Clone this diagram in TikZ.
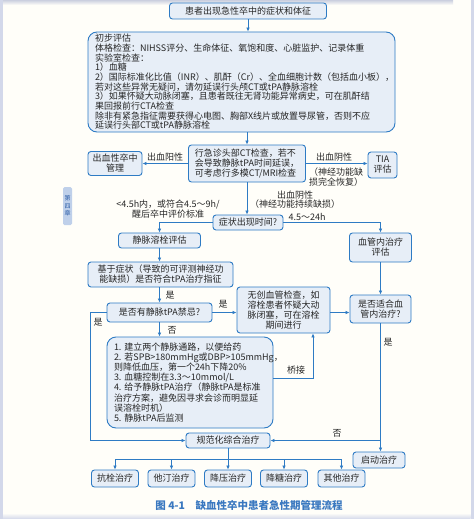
\documentclass[tikz,border=0pt]{standalone}
\usepackage{fontspec}
\setmainfont{Noto Sans CJK SC}
\usetikzlibrary{arrows.meta,calc}
\definecolor{lineblue}{HTML}{2E7BC4}
\definecolor{boxfill}{HTML}{E7EEF7}
\definecolor{txt}{HTML}{262626}
\definecolor{capblue}{HTML}{3A78C0}
\definecolor{strip}{HTML}{D3D8EA}
\definecolor{pagebg}{HTML}{FFFEF9}
\definecolor{tabblue}{HTML}{BFD0EA}
\definecolor{tabtxt}{HTML}{2E5FA8}
\begin{document}
\begin{tikzpicture}[x=1pt,y=-1pt,
  box/.style={draw=lineblue, fill=boxfill, line width=0.9pt, rounded corners=3pt,
    inner sep=1pt, align=center, font=\fontsize{9}{10}\selectfont, text=txt},
  bigbox/.style={box, rounded corners=9pt, align=left},
  lab/.style={font=\fontsize{9}{10}\selectfont, text=txt, inner sep=1pt, align=center},
  conn/.style={draw=lineblue, line width=0.9pt},
  arr/.style={conn, -{Latex[length=4pt,width=3.6pt]}},
]
\useasboundingbox (0,0) rectangle (474,519);
% page
\fill[pagebg] (0,0) rectangle (474,519);
\fill[strip] (0,0) rectangle (3,519);
\fill[strip] (470.5,0) rectangle (474,519);
\shade[top color=strip!90!gray, bottom color=pagebg] (3,0) rectangle (453,5);
\shade[top color=pagebg, bottom color=strip] (3,513) rectangle (470.5,519);
\node[fill=tabblue, rounded corners=1.5pt, minimum width=9pt, minimum height=38pt,
  inner sep=0pt, font=\fontsize{6}{7.5}\selectfont, text=tabtxt, align=center] (tab) at (67.5,206) {第\\四\\章};

% nodes
\node[box, minimum width=157pt, minimum height=16pt] (top) at (248,11) {患者出现急性卒中的症状和体征};
\node[bigbox, font=\fontsize{9}{9.65}\selectfont, text width=293pt, inner xsep=7pt, minimum height=100pt] (init) at (241.5,82) {初步评估\\
体格检查：NIHSS评分、生命体征、氧饱和度、心脏监护、记录体重\\
实验室检查：\\
1）血糖\\
2）国际标准化比值（INR）、肌酐（Cr）、全血细胞计数（包括血小板），\\
若对这些异常无疑问，请勿延误行头颅CT或tPA静脉溶栓\\
3）如果怀疑大动脉闭塞，且患者既往无肾功能异常病史，可在肌酐结\\
果回报前行CTA检查\\
除非有紧急指征需要获得心电图、胸部X线片或放置导尿管，否则不应\\
延误行头部CT或tPA静脉溶栓};
\node[box, align=left, minimum width=117pt, minimum height=37pt] (ct) at (247,163.5) {行急诊头部CT检查，若不\\会导致静脉tPA时间延误，\\可考虑行多模CT/MRI检查};
\node[box, minimum width=54pt, minimum height=24pt] (hem) at (115,163.5) {出血性卒中\\管理};
\node[box, minimum width=29pt, minimum height=26pt] (tia) at (382.5,165) {TIA\\评估};
\node[box, minimum width=70pt, minimum height=15pt] (time) at (248,222.5) {症状出现时间?};
\node[box, minimum width=82pt, minimum height=15pt] (ivt) at (159.5,240.5) {静脉溶栓评估};
\node[box, minimum width=145pt, minimum height=25pt] (sym) at (160.5,274.5) {基于症状（导致的可评测神经功\\能缺损）是否符合tPA治疗指征};
\node[box, minimum width=105pt, minimum height=19pt] (contra) at (159.5,312.5) {是否有静脉tPA禁忌?};
\node[box, minimum width=93pt, minimum height=46pt] (nonin) at (283.5,310) {无创血管检查，如\\溶栓患者怀疑大动\\脉闭塞，可在溶栓\\期间进行};
\node[box, minimum width=62pt, minimum height=29pt] (evt) at (380.5,247.5) {血管内治疗\\评估};
\node[box, minimum width=61pt, minimum height=28pt] (fit) at (380.5,309) {是否适合血\\管内治疗?};
\node[bigbox, font=\fontsize{9}{10.1}\selectfont, text width=152pt, inner xsep=7pt, minimum height=91pt] (steps) at (190,382.5) {1.~建立两个静脉通路，以便给药\\
2.~若SPB>180mmHg或DBP>105mmHg，\\
则降低血压，第一个24h下降20\%\\
3.~血糖控制在3.3～10mmol/L\\
4.~给予静脉tPA治疗（静脉tPA是标准\\
治疗方案，避免因寻求会诊而明显延\\
误溶栓时机）\\
5.~静脉tPA后监测};
\node[box, minimum width=84pt, minimum height=15pt] (std) at (228,440.5) {规范化综合治疗};
\node[box, minimum width=52pt, minimum height=16pt] (start) at (379,460) {启动治疗};
\node[box, minimum width=47pt, minimum height=17pt] (b1) at (115,478.5) {抗栓治疗};
\node[box, minimum width=47pt, minimum height=17pt] (b2) at (171.5,478.5) {他汀治疗};
\node[box, minimum width=47pt, minimum height=17pt] (b3) at (228,478.5) {降压治疗};
\node[box, minimum width=47pt, minimum height=17pt] (b4) at (284,478.5) {降糖治疗};
\node[box, minimum width=47pt, minimum height=17pt] (b5) at (341.5,478.5) {其他治疗};

% labels
\node[lab] (l1) at (165,157) {出血阳性};
\node[lab] (l2) at (334,157) {出血阴性};
\node[lab] (l3) at (336,177.5) {（神经功能缺\\损完全恢复）};
\node[lab, font=\fontsize{9}{9.5}\selectfont] (l4) at (295,199.5) {出血阴性\\（神经功能持续缺损）};
\node[lab] (l5) at (168,209) {<4.5h内，或符合4.5～9h/\\醒后卒中评价标准};
\node[lab, inner sep=0pt] (l6) at (307,216.5) {4.5～24h};
\node[lab] (l7) at (170,295) {是};
\node[lab] (l8) at (223,304) {是};
\node[lab] (l9) at (172,330) {否};
\node[lab] (l10) at (98,322) {是};
\node[lab] (l11) at (296,370) {桥接};
\node[lab] (l12) at (388,342) {是};
\node[lab] (l13) at (337,433) {否};

% caption
\node[font=\fontsize{10.5}{12}\selectfont\bfseries, text=capblue, inner sep=0pt] (cap) at (249,505) {图 4-1\quad 缺血性卒中患者急性期管理流程};

% connectors
\draw[arr] (top.south) -- (top.south |- init.north);
\draw[arr] (ct.north |- init.south) -- (ct.north);
\draw[arr] (ct.west) -- (hem.east);
\draw[arr] (ct.east) -- (ct.east -| tia.west);
\draw[arr] (ct.south) -- (ct.south |- time.north);
\draw[arr] (time.west) -| (ivt.north);
\draw[arr] (time.east) -| (evt.north);
\draw[arr] (ivt.south) -- (ivt.south |- sym.north);
\draw[arr] (ivt.south |- sym.south) -- (ivt.south |- contra.north);
\draw[arr] (contra.east) -- (contra.east -| nonin.west);
\draw[arr] (nonin.east |- contra.east) -- (fit.west |- contra.east);
\draw[arr] (evt.south) -- (fit.north);
\draw[arr] (fit.south) -- (fit.south |- start.north);
\coordinate (jn) at (fit.south |- std.east);
\draw[arr] (jn) -- (std.east);
\draw[arr] (contra.west) -- ++(-16,0) |- (std.west);
\draw[arr] (contra.south) -- (contra.south |- steps.north);
\draw[arr] ([yshift=4.5pt]steps.east) -| ([xshift=29.5pt]nonin.south);
\draw[arr] (std.south) -- (b3.north);
\coordinate (bus) at ($(std.south)!0.5!(b3.north)$);
\draw[conn] (b1.north |- bus) -- (b5.north |- bus);
\draw[arr] (b1.north |- bus) -- (b1.north);
\draw[arr] (b2.north |- bus) -- (b2.north);
\draw[arr] (b4.north |- bus) -- (b4.north);
\draw[arr] (b5.north |- bus) -- (b5.north);
\end{tikzpicture}
\end{document}
